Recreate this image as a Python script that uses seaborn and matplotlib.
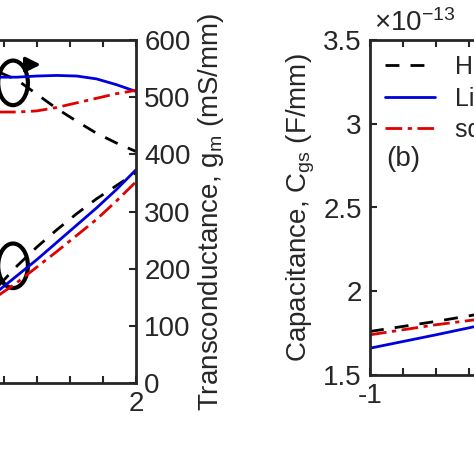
import numpy as np
import pandas as pd
import matplotlib
matplotlib.use("Agg")
import matplotlib.pyplot as plt
import seaborn as sns
from matplotlib.patches import Ellipse

sns.set_style("ticks")
plt.rcParams['font.family'] = ['Liberation Sans', 'DejaVu Sans']
plt.rcParams['mathtext.default'] = 'regular'

# panel (a): transconductance (mS/mm)
vg_a = [-0.1, 0.2, 0.5, 0.8, 1.1, 1.4, 1.7, 2.0]
gm_top_hemt = [545, 530, 505, 480, 458, 437, 420, 405]
gm_top_lin = [535, 535, 537, 538, 537, 532, 522, 510]
gm_top_sq = [474, 474, 476, 482, 490, 498, 506, 512]
gm_low_hemt = [168, 205, 238, 268, 296, 322, 345, 368]
gm_low_lin = [160, 188, 216, 246, 276, 306, 338, 373]
gm_low_sq = [152, 176, 203, 230, 258, 286, 318, 352]

# panel (b): gate capacitance (F/mm)
vg_b = [-1.0, -0.5, 0.0, 0.6]
cgs_hemt = [1.76e-13, 1.79e-13, 1.82e-13, 1.86e-13]
cgs_lin = [1.66e-13, 1.70e-13, 1.74e-13, 1.79e-13]
cgs_sq = [1.74e-13, 1.77e-13, 1.80e-13, 1.83e-13]

W = H = 474
fig = plt.figure(figsize=(4.74, 4.74), dpi=100)

def box(x0, y0, x1, y1):
    return [x0 / W, 1 - y1 / H, (x1 - x0) / W, (y1 - y0) / H]

styles = {"HEMT": ("black", (0, (5, 4))), "Linear": ("#0000dd", "-"), "sq.": ("#e00000", (0, (6, 2, 1.5, 2)))}

# left panel (only its right edge and twin axis visible)
axa = fig.add_axes(box(-62, 40, 136, 383))
axa.set_xlim(-1, 2)
axa.set_ylim(0, 600)
for name, top, low in [("HEMT", gm_top_hemt, gm_low_hemt), ("Linear", gm_top_lin, gm_low_lin), ("sq.", gm_top_sq, gm_low_sq)]:
    c, ls = styles[name]
    for vals in (top, low):
        df = pd.DataFrame({"vg": vg_a, "gm": vals})
        sns.lineplot(data=df, x="vg", y="gm", ax=axa, color=c, linestyle=ls, lw=2)
axa.yaxis.tick_right()
axa.yaxis.set_label_position("right")
axa.set_yticks(range(0, 601, 100))
axa.set_xticks([-1, -0.5, 0, 0.5, 1, 1.5, 2])
axa.set_xticklabels(["", "", "", "", "", "", "2"])
axa.tick_params(labelsize=20, direction="in", length=5, width=1.5, right=True, top=True, left=True, pad=6)
axa.set_xlabel("")
axa.set_ylabel("Transconductance, g$_m$ (mS/mm)", fontsize=20, labelpad=4)
for s in axa.spines.values():
    s.set_linewidth(2)
axa.add_patch(Ellipse((-0.06 + 13 / 66, 525), 0.45, 78, fill=False, lw=3, color="black"))
axa.add_patch(Ellipse((-0.06 + 13 / 66, 205), 0.45, 78, fill=False, lw=3, color="black"))
axa.annotate("", xy=(0.6, 557), xytext=(0.3, 557),
             arrowprops=dict(arrowstyle="-|>", color="black", lw=2.5, mutation_scale=22))

# right panel (b)
axb = fig.add_axes(box(370, 40, 568, 375))
for name, vals in [("HEMT model", cgs_hemt), ("Linear", cgs_lin), ("sq. root", cgs_sq)]:
    c, ls = styles[name.split()[0]]
    df = pd.DataFrame({"vg": vg_b, "cgs": vals})
    sns.lineplot(data=df, x="vg", y="cgs", ax=axb, color=c, linestyle=ls, lw=2, label=name)
axb.set_xlim(-1, 2)
axb.set_ylim(1.5e-13, 3.5e-13)
axb.set_xticks([-1, -0.5, 0, 0.5, 1])
axb.set_xticklabels(["-1", "", "", "", ""])
axb.set_yticks([1.5e-13, 2e-13, 2.5e-13, 3e-13, 3.5e-13])
axb.set_yticklabels(["1.5", "2", "2.5", "3", "3.5"])
axb.tick_params(labelsize=20, direction="in", length=5, width=1.5, right=True, top=True, pad=6)
axb.set_xlabel("")
axb.set_ylabel("Capacitance, C$_{gs}$ (F/mm)", fontsize=20, labelpad=4)
for s in axb.spines.values():
    s.set_linewidth(2)
axb.text(0.02, 1.01, r"$\times$10$^{-13}$", transform=axb.transAxes, fontsize=20, va="bottom")
axb.text(-0.75, 2.75e-13, "(b)", fontsize=20)
axb.legend(loc="upper left", frameon=False, fontsize=18, handlelength=2.0, borderaxespad=0.2,
           labelspacing=0.3)

fig.savefig("out.png", dpi=100)
